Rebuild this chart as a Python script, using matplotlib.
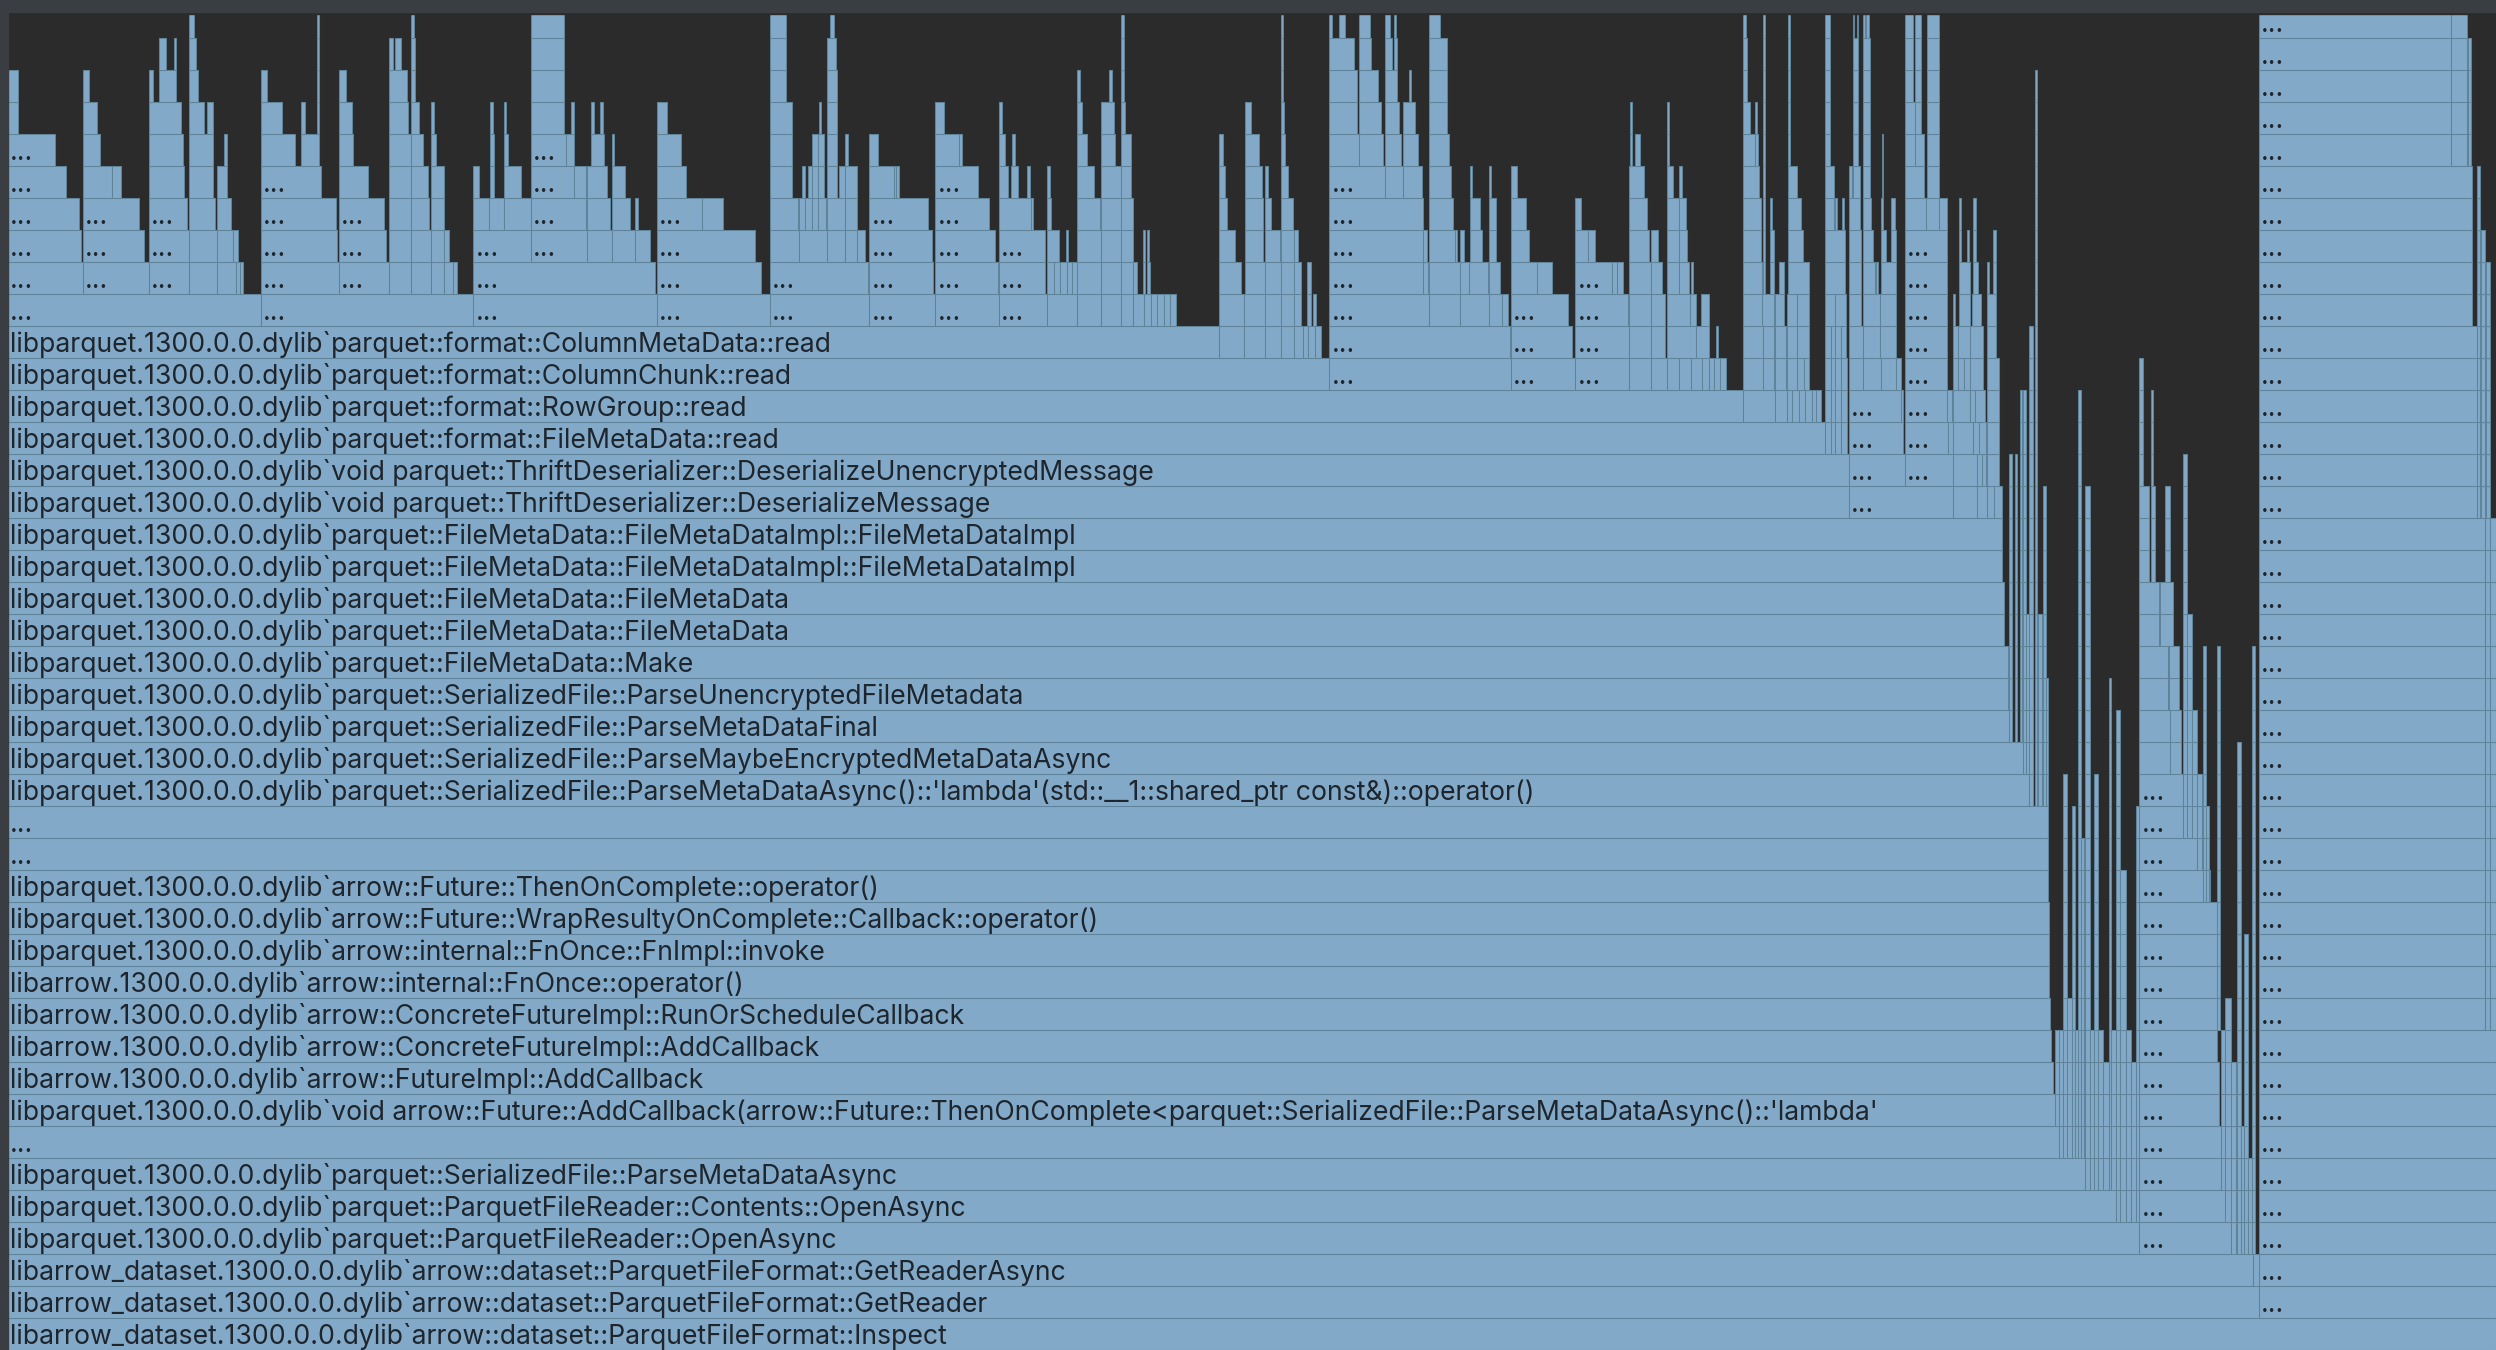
import matplotlib
matplotlib.use("Agg")
import matplotlib.pyplot as plt
from matplotlib.patches import Rectangle

FONT = ["Inter", "DejaVu Sans"]
FILL = "#82aac8"
EDGE = "#5f8399"
TEXT = "#1e252c"
BG = "#2b2b2b"
CHROME = "#3a3e42"

VIEW = 1568.0          # samples across the visible window
N_ROWS = 1350 / 32     # stack rows that fit in the window
MAIN_START = 4.85

# bottom-up call stack (row 0 = root)
main_labels = [
    "libarrow_dataset.1300.0.0.dylib`arrow::dataset::ParquetFileFormat::Inspect",
    "libarrow_dataset.1300.0.0.dylib`arrow::dataset::ParquetFileFormat::GetReader",
    "libarrow_dataset.1300.0.0.dylib`arrow::dataset::ParquetFileFormat::GetReaderAsync",
    "libparquet.1300.0.0.dylib`parquet::ParquetFileReader::OpenAsync",
    "libparquet.1300.0.0.dylib`parquet::ParquetFileReader::Contents::OpenAsync",
    "libparquet.1300.0.0.dylib`parquet::SerializedFile::ParseMetaDataAsync",
    "...",
    "libparquet.1300.0.0.dylib`void arrow::Future::AddCallback(arrow::Future::ThenOnComplete<parquet::SerializedFile::ParseMetaDataAsync()::'lambda'",
    "libarrow.1300.0.0.dylib`arrow::FutureImpl::AddCallback",
    "libarrow.1300.0.0.dylib`arrow::ConcreteFutureImpl::AddCallback",
    "libarrow.1300.0.0.dylib`arrow::ConcreteFutureImpl::RunOrScheduleCallback",
    "libarrow.1300.0.0.dylib`arrow::internal::FnOnce::operator()",
    "libparquet.1300.0.0.dylib`arrow::internal::FnOnce::FnImpl::invoke",
    "libparquet.1300.0.0.dylib`arrow::Future::WrapResultyOnComplete::Callback::operator()",
    "libparquet.1300.0.0.dylib`arrow::Future::ThenOnComplete::operator()",
    "...",
    "...",
    "libparquet.1300.0.0.dylib`parquet::SerializedFile::ParseMetaDataAsync()::'lambda'(std::__1::shared_ptr const&)::operator()",
    "libparquet.1300.0.0.dylib`parquet::SerializedFile::ParseMaybeEncryptedMetaDataAsync",
    "libparquet.1300.0.0.dylib`parquet::SerializedFile::ParseMetaDataFinal",
    "libparquet.1300.0.0.dylib`parquet::SerializedFile::ParseUnencryptedFileMetadata",
    "libparquet.1300.0.0.dylib`parquet::FileMetaData::Make",
    "libparquet.1300.0.0.dylib`parquet::FileMetaData::FileMetaData",
    "libparquet.1300.0.0.dylib`parquet::FileMetaData::FileMetaData",
    "libparquet.1300.0.0.dylib`parquet::FileMetaData::FileMetaDataImpl::FileMetaDataImpl",
    "libparquet.1300.0.0.dylib`parquet::FileMetaData::FileMetaDataImpl::FileMetaDataImpl",
    "libparquet.1300.0.0.dylib`void parquet::ThriftDeserializer::DeserializeMessage",
    "libparquet.1300.0.0.dylib`void parquet::ThriftDeserializer::DeserializeUnencryptedMessage",
    "libparquet.1300.0.0.dylib`parquet::format::FileMetaData::read",
    "libparquet.1300.0.0.dylib`parquet::format::RowGroup::read",
    "libparquet.1300.0.0.dylib`parquet::format::ColumnChunk::read",
    "libparquet.1300.0.0.dylib`parquet::format::ColumnMetaData::read",
]
main_ends = [1568, 1419, 1415.5, 1344, 1329, 1310, 1293.5, 1291, 1290, 1288.5,
             1287.8, 1287.5, 1287.2, 1287, 1286.6, 1286.6, 1286.6, 1274.7, 1271, 1262.3,
             1261.3, 1261.3, 1259, 1259, 1257.5, 1257.5, 1161.6, 1161.6, 1146.5, 1095,
             835, 766]

# "..." frames starting at 1344 on rows 3..17
w_start = 1344.0
w_ends = [1401.7, 1397.9, 1395.3, 1395.3, 1394.0, 1394.0, 1393.0, 1393.0, 1393.0,
          1393.0, 1393.0, 1388.1, 1380.2, 1371.4, 1371.4]

# stacked columns: (x0, x1, first row, last row)
w_upper = [(1344, 1363, 18, 19), (1363, 1370, 18, 19), (1344, 1362, 20, 21),
           (1362.5, 1369, 20, 21), (1344, 1356, 22, 23), (1357, 1365, 22, 23),
           (1344, 1350, 24, 26), (1351, 1354, 24, 26), (1360, 1363, 24, 26),
           (1344, 1346, 27, 30), (1351, 1352.5, 27, 29)]

right_cols = [(1419.2, 1568, 1, 9), (1419.2, 1561.3, 10, 25), (1419.2, 1556, 26, 31),
              (1419.2, 1553, 32, 36), (1419.2, 1540, 37, 41)]

spike_cols = [
    (1262.2, 1263.8, 19, 27), (1265.7, 1267.2, 19, 27), (1268.7, 1270.5, 19, 29),
    (1271.0, 1272.6, 18, 29), (1272.6, 1274.5, 18, 22), (1274.7, 1277.0, 17, 31),
    (1278.3, 1279.5, 17, 39), (1280.0, 1283.0, 17, 22), (1283.5, 1285.0, 17, 26),
    (1285.0, 1286.6, 17, 20), (1291.0, 1293.5, 7, 9), (1293.5, 1296.2, 6, 9),
    (1296.2, 1298.6, 6, 17), (1298.6, 1301.4, 6, 10), (1301.4, 1303.8, 6, 16),
    (1303.8, 1305.7, 6, 9), (1305.7, 1307.5, 6, 29), (1307.5, 1309.3, 6, 15),
    (1310.0, 1313.0, 5, 26), (1313.0, 1315.3, 5, 9), (1315.3, 1317.7, 5, 17),
    (1317.7, 1321.0, 5, 9), (1321.0, 1324.8, 5, 8), (1324.8, 1326.0, 5, 20),
    (1326.0, 1329.0, 5, 9), (1329.1, 1331.5, 4, 19), (1332.0, 1335.6, 4, 14),
    (1335.6, 1338.5, 4, 9), (1338.5, 1341.6, 4, 8), (1341.6, 1343.9, 4, 16),
    (1371.4, 1374.0, 16, 27), (1374.0, 1377.0, 16, 22), (1377.0, 1380.0, 16, 19),
    (1380.2, 1383.0, 15, 17), (1384.0, 1386.0, 14, 21), (1386.0, 1388.0, 14, 16),
    (1393.0, 1394.5, 10, 21), (1395.3, 1397.9, 5, 9), (1397.9, 1401.7, 4, 10),
    (1401.7, 1404.5, 3, 8), (1405.5, 1408.0, 3, 18), (1408.0, 1409.6, 3, 6),
    (1409.6, 1412.5, 3, 12), (1412.5, 1415.0, 3, 5), (1415.0, 1416.5, 3, 21),
    (1415.6, 1419.0, 2, 2), (1540.0, 1550.0, 37, 41), (1550.5, 1552.5, 37, 40),
    (1556.0, 1558.0, 26, 36), (1558.5, 1561.0, 26, 34), (1562.0, 1564.5, 26, 33),
    (1561.3, 1564.5, 10, 25), (1564.5, 1568.0, 10, 25),
]

# frames on the upper rows (x0, x1)
row_26 = [(1161.6, 1226.9), (1226.9, 1242.2), (1242.2, 1248.3), (1248.3, 1252.5), (1252.5, 1257.5)]
row_27 = [(1161.6, 1196.8), (1196.8, 1226.9), (1226.9, 1242.2), (1242.2, 1245.0), (1245.0, 1247.5),
          (1248.3, 1255.8)]
row_28 = [(1146.5, 1150.0), (1150.0, 1153.0), (1153.0, 1156.5), (1156.5, 1160.4), (1161.6, 1195.5),
          (1196.8, 1223.8), (1223.8, 1226.9), (1226.9, 1239.5), (1239.5, 1243.5), (1243.5, 1247.5),
          (1248.3, 1255.8)]
row_29 = [(1095.0, 1115.1), (1115.1, 1122.7), (1122.7, 1126.0), (1126.0, 1130.2), (1130.2, 1134.0),
          (1134.0, 1138.0), (1138.0, 1141.0), (1141.0, 1144.2), (1146.5, 1150.0), (1150.0, 1153.0),
          (1153.0, 1156.5), (1156.5, 1160.4), (1161.6, 1194.5), (1194.5, 1195.5), (1196.8, 1223.2),
          (1223.2, 1226.5), (1226.9, 1237.4), (1237.4, 1241.0), (1241.0, 1246.8), (1248.3, 1255.8)]
row_30 = [(835.1, 949.3), (949.3, 989.7), (989.7, 1023.3), (1023.3, 1037.3), (1037.3, 1047.4),
          (1047.4, 1055.0), (1055.0, 1062.0), (1062.0, 1069.0), (1069.0, 1073.8), (1073.8, 1077.0),
          (1077.0, 1080.5), (1080.5, 1084.0), (1095.0, 1107.5), (1107.5, 1114.7), (1115.1, 1122.0),
          (1122.7, 1129.0), (1129.0, 1133.0), (1133.0, 1136.5), (1146.5, 1150.0), (1150.0, 1153.0),
          (1153.0, 1156.5), (1156.5, 1160.3), (1161.6, 1170.4), (1170.4, 1181.9), (1181.9, 1191.3),
          (1191.3, 1194.5), (1196.8, 1223.2), (1226.9, 1230.0), (1230.0, 1233.5), (1233.5, 1237.4),
          (1237.4, 1245.8), (1248.3, 1255.8)]
row_31 = [(766.0, 781.7), (781.7, 794.9), (794.9, 804.7), (804.7, 813.2), (813.2, 818.8),
          (818.8, 822.0), (822.0, 826.0), (826.0, 830.0), (835.1, 948.3), (949.3, 987.3),
          (989.7, 1023.3), (1023.3, 1037.3), (1037.3, 1046.2), (1047.4, 1065.4), (1065.4, 1073.8),
          (1078.0, 1079.5), (1095.0, 1107.5), (1107.5, 1114.7), (1115.1, 1122.0), (1122.7, 1129.0),
          (1129.0, 1136.4), (1146.5, 1150.0), (1150.0, 1153.0), (1153.0, 1156.5), (1156.5, 1159.9),
          (1161.6, 1170.4), (1170.4, 1180.9), (1180.9, 1191.3), (1196.8, 1223.2), (1226.9, 1230.0),
          (1230.0, 1237.4), (1237.4, 1245.8), (1248.3, 1254.0)]
row_32 = [(4.85, 164.0), (164.0, 297.4), (297.4, 412.8), (412.8, 483.7), (483.7, 546.2),
          (546.2, 587.5), (587.5, 627.6), (627.6, 657.6), (657.6, 676.6), (676.6, 691.8),
          (691.8, 704.4), (704.4, 711.7), (711.7, 718.4), (718.4, 723.0), (723.0, 727.0),
          (727.0, 731.0), (731.0, 735.0), (735.0, 738.9), (766.0, 781.7), (781.7, 794.9),
          (794.9, 804.7), (804.7, 813.2), (813.2, 817.4), (821.0, 823.8), (825.0, 826.6),
          (835.1, 897.9), (897.9, 917.1), (917.1, 935.6), (935.6, 943.5), (943.5, 947.5),
          (949.3, 984.9), (989.7, 1022.9), (1023.3, 1037.3), (1037.3, 1046.2), (1047.4, 1061.8),
          (1061.8, 1065.4), (1068.6, 1073.8), (1095.0, 1107.0), (1107.0, 1114.2), (1115.1, 1120.7),
          (1122.7, 1129.0), (1129.0, 1136.4), (1146.5, 1153.0), (1153.0, 1159.9), (1161.6, 1169.4),
          (1170.4, 1180.9), (1181.3, 1191.0), (1196.8, 1223.2), (1226.9, 1228.2), (1230.7, 1237.4),
          (1239.0, 1244.7), (1248.3, 1253.7)]
row_33 = [(4.85, 52.2), (52.2, 93.6), (93.6, 118.6), (118.6, 136.2), (136.2, 148.0),
          (148.0, 150.6), (150.6, 152.9), (164.0, 212.8), (212.8, 244.2), (244.2, 258.3),
          (258.3, 270.8), (270.8, 278.8), (278.8, 284.6), (284.6, 287.2), (297.4, 411.2),
          (412.8, 478.2), (483.7, 545.4), (546.2, 586.0), (587.5, 626.7), (627.6, 656.7),
          (657.9, 662.0), (662.0, 666.0), (666.0, 670.0), (670.0, 673.5), (673.5, 676.6),
          (676.6, 691.8), (691.8, 704.4), (704.4, 711.7), (711.7, 714.5), (717.9, 719.5),
          (720.8, 722.2), (766.0, 779.5), (782.3, 794.9), (794.9, 804.7), (804.7, 813.2),
          (813.2, 817.4), (821.0, 823.8), (835.1, 894.0), (894.0, 897.2), (897.9, 917.1),
          (917.1, 922.9), (922.9, 934.9), (935.6, 942.1), (949.3, 965.6), (965.6, 974.8),
          (989.7, 1012.5), (1012.5, 1016.0), (1016.0, 1019.5), (1023.3, 1037.3), (1037.3, 1043.8),
          (1047.4, 1054.6), (1054.6, 1061.3), (1062.3, 1063.8), (1095.0, 1107.0), (1107.5, 1108.7),
          (1111.7, 1114.2), (1117.6, 1120.7), (1123.1, 1136.4), (1146.5, 1159.0), (1161.6, 1169.4),
          (1170.4, 1177.7), (1178.4, 1179.8), (1181.9, 1191.0), (1196.8, 1223.2), (1230.7, 1237.4),
          (1239.5, 1242.6), (1248.3, 1249.5), (1252.0, 1253.7)]
row_34 = [(4.85, 50.6), (52.2, 90.4), (93.6, 118.6), (118.6, 136.2), (136.2, 146.5),
          (146.5, 149.7), (164.0, 211.5), (212.8, 242.6), (244.2, 258.3), (258.3, 270.8),
          (270.8, 278.8), (278.8, 282.0), (297.4, 333.3), (333.3, 368.6), (368.6, 384.6),
          (384.6, 399.0), (399.0, 408.6), (412.8, 474.3), (483.7, 502.0), (502.0, 519.6),
          (519.6, 530.8), (530.8, 538.4), (538.4, 543.4), (546.2, 585.5), (587.5, 625.3),
          (627.6, 656.2), (657.9, 665.1), (669.6, 670.8), (676.6, 691.8), (691.8, 704.4),
          (704.4, 711.7), (717.9, 719.5), (720.8, 722.0), (766.0, 776.0), (782.3, 793.6),
          (794.9, 804.2), (804.7, 812.6), (813.2, 815.5), (835.1, 894.0), (894.0, 896.4),
          (897.9, 914.0), (914.0, 915.6), (917.1, 919.5), (923.6, 930.8), (935.6, 940.0),
          (949.3, 960.4), (989.7, 997.4), (997.4, 1002.2), (1023.3, 1035.8), (1037.3, 1041.4),
          (1047.4, 1054.6), (1054.6, 1059.9), (1095.0, 1106.3), (1107.5, 1108.7), (1111.7, 1114.2),
          (1123.1, 1132.7), (1146.5, 1159.0), (1161.6, 1169.4), (1170.4, 1176.7), (1181.9, 1185.0),
          (1188.2, 1191.0), (1196.8, 1223.2), (1230.7, 1232.2), (1235.7, 1237.0), (1239.5, 1241.2),
          (1252.0, 1253.7)]
row_35 = [(4.85, 49.7), (52.2, 87.2), (93.6, 117.6), (118.6, 135.3), (136.2, 145.2),
          (164.0, 210.9), (212.8, 241.0), (244.2, 258.3), (258.3, 269.2), (270.8, 278.8),
          (297.4, 307.0), (307.0, 316.7), (316.7, 333.3), (333.3, 368.0), (368.6, 383.0),
          (384.6, 395.8), (399.0, 400.6), (412.8, 440.7), (440.7, 454.5), (483.7, 501.4),
          (502.0, 506.0), (506.0, 510.0), (510.0, 514.0), (514.0, 518.8), (519.6, 530.8),
          (530.8, 538.4), (546.2, 582.7), (587.5, 621.1), (627.6, 647.8), (647.8, 649.0),
          (657.9, 660.4), (676.6, 691.2), (691.8, 704.4), (704.4, 711.7), (766.0, 771.0),
          (782.3, 793.6), (794.9, 798.5), (804.7, 812.0), (835.1, 894.0), (897.9, 912.8),
          (923.6, 929.6), (935.6, 939.5), (949.3, 958.4), (989.7, 993.3), (1023.3, 1034.9),
          (1047.4, 1054.6), (1054.6, 1058.9), (1095.0, 1106.3), (1107.5, 1108.7), (1111.7, 1113.0),
          (1123.1, 1131.5), (1146.5, 1151.9), (1152.6, 1154.3), (1157.2, 1158.4), (1161.6, 1168.3),
          (1170.4, 1175.6), (1181.9, 1183.0), (1188.2, 1190.5), (1196.8, 1210.2), (1210.2, 1218.1),
          (1218.1, 1223.2), (1230.7, 1232.2), (1239.5, 1241.2)]
row_36 = [(4.85, 41.7), (52.2, 70.5), (70.5, 76.0), (93.6, 115.4), (118.6, 134.0),
          (136.2, 142.6), (164.0, 201.9), (212.8, 231.4), (244.2, 258.3), (258.3, 268.6),
          (270.8, 278.8), (297.4, 300.6), (307.7, 310.2), (316.7, 327.6), (333.3, 360.6),
          (360.6, 368.0), (368.6, 381.4), (384.6, 392.6), (412.8, 431.0), (483.7, 497.7),
          (504.0, 505.5), (507.6, 510.0), (510.0, 514.0), (514.0, 517.4), (519.6, 525.8),
          (527.2, 530.8), (530.8, 538.4), (546.2, 561.4), (561.4, 563.0), (563.0, 565.0),
          (587.5, 614.1), (627.6, 633.2), (635.0, 639.3), (644.9, 647.2), (657.9, 659.5),
          (676.6, 687.0), (691.8, 704.4), (704.4, 710.8), (766.0, 769.7), (782.3, 793.0),
          (794.9, 796.3), (804.7, 808.9), (835.1, 870.0), (870.0, 881.5), (881.5, 893.0),
          (897.9, 911.6), (923.6, 925.0), (935.6, 936.8), (949.3, 953.1), (1023.3, 1033.0),
          (1047.4, 1051.0), (1054.6, 1056.5), (1095.0, 1105.0), (1107.5, 1108.7), (1123.1, 1129.1),
          (1146.5, 1151.9), (1161.6, 1163.5), (1164.0, 1168.3), (1170.4, 1174.7), (1182.0, 1183.0),
          (1196.8, 1208.5), (1210.7, 1218.1)]
row_37 = [(4.85, 34.6), (52.2, 63.1), (93.6, 115.0), (118.6, 134.0), (141.0, 142.6),
          (164.0, 185.3), (189.0, 200.3), (212.8, 221.8), (244.2, 258.3), (258.3, 266.0),
          (270.8, 274.0), (307.7, 310.2), (316.7, 319.0), (333.3, 355.8), (355.8, 360.6),
          (371.0, 379.7), (384.6, 386.0), (412.8, 427.9), (483.7, 497.7), (510.4, 514.0),
          (514.0, 517.4), (519.6, 525.8), (531.0, 532.5), (546.2, 551.6), (587.5, 602.3),
          (602.3, 604.5), (627.6, 631.5), (636.0, 637.5), (676.6, 682.8), (691.8, 700.5),
          (704.4, 710.8), (766.0, 768.4), (782.3, 790.8), (804.7, 807.4), (835.1, 853.9),
          (853.9, 869.0), (870.0, 880.3), (881.5, 890.6), (897.9, 910.3), (1023.8, 1025.3),
          (1027.0, 1030.5), (1047.4, 1048.6), (1095.0, 1102.2), (1102.7, 1104.2), (1107.5, 1108.7),
          (1123.1, 1124.8), (1146.5, 1149.7), (1164.0, 1167.5), (1170.4, 1174.7), (1182.0, 1183.0),
          (1196.8, 1203.2), (1203.2, 1208.5), (1210.7, 1218.1)]
row_38 = [(4.85, 11.2), (52.2, 60.9), (93.6, 113.8), (118.6, 128.2), (129.8, 134.0),
          (164.0, 176.9), (189.0, 191.3), (199.0, 200.3), (212.8, 221.1), (244.2, 256.0),
          (258.3, 263.5), (270.8, 272.4), (307.7, 309.6), (316.7, 317.9), (333.3, 354.2),
          (358.6, 360.6), (371.0, 373.0), (377.0, 379.0), (412.8, 419.2), (483.7, 497.7),
          (514.5, 516.0), (519.6, 525.8), (587.5, 593.1), (627.6, 629.6), (676.6, 680.0),
          (691.8, 699.6), (704.4, 706.6), (782.3, 785.6), (804.7, 806.9), (835.1, 852.7),
          (853.9, 867.6), (870.0, 878.6), (881.5, 888.7), (897.9, 909.2), (1023.8, 1025.3),
          (1047.4, 1048.6), (1095.0, 1099.1), (1102.7, 1104.0), (1107.5, 1108.7), (1123.1, 1124.8),
          (1146.5, 1149.7), (1164.0, 1167.5), (1170.4, 1174.7), (1196.8, 1203.2), (1203.2, 1206.5),
          (1210.7, 1218.1)]
row_39 = [(4.85, 11.2), (52.2, 56.1), (93.6, 96.2), (100.0, 110.6), (118.6, 124.4),
          (164.0, 168.0), (199.0, 200.3), (212.8, 217.3), (244.2, 255.8), (258.3, 260.5),
          (333.3, 354.2), (483.7, 493.5), (519.6, 525.8), (676.6, 678.6), (696.7, 698.6),
          (704.4, 706.1), (804.7, 806.2), (835.1, 852.7), (853.9, 865.9), (870.0, 877.9),
          (885.1, 886.3), (897.9, 909.2), (1095.0, 1097.6), (1107.5, 1108.7), (1123.1, 1124.8),
          (1146.5, 1149.7), (1164.0, 1167.5), (1170.4, 1174.7), (1196.8, 1201.8), (1203.2, 1206.5),
          (1210.7, 1218.1)]
row_40 = [(100.0, 104.2), (109.0, 110.6), (118.6, 123.4), (199.0, 200.3), (244.2, 246.8),
          (248.4, 251.6), (258.3, 260.5), (333.3, 354.2), (483.7, 493.5), (519.6, 524.9),
          (704.4, 706.1), (804.7, 806.2), (835.1, 850.3), (853.9, 861.3), (870.0, 874.3),
          (875.5, 877.9), (897.9, 909.2), (1095.0, 1097.6), (1107.5, 1108.7), (1123.1, 1124.8),
          (1146.5, 1149.7), (1164.0, 1167.5), (1170.4, 1174.7), (1196.8, 1201.8), (1203.2, 1206.5),
          (1210.7, 1218.1)]
row_41 = [(118.6, 121.8), (199.0, 200.3), (258.3, 260.2), (333.3, 354.2), (483.7, 493.5),
          (521.5, 523.8), (704.4, 706.1), (804.7, 806.2), (835.1, 837.0), (841.1, 845.0),
          (853.9, 860.4), (870.0, 872.9), (875.5, 876.7), (897.9, 904.4), (1095.0, 1096.9),
          (1107.5, 1108.7), (1123.1, 1124.3), (1146.5, 1149.7), (1164.0, 1165.0), (1166.5, 1167.5),
          (1170.4, 1171.8), (1172.5, 1174.0), (1196.8, 1201.8), (1203.2, 1206.5), (1210.7, 1218.1)]

upper_rows = [row_26, row_27, row_28, row_29, row_30, row_31, row_32, row_33,
              row_34, row_35, row_36, row_37, row_38, row_39, row_40, row_41]
UPPER_FIRST = 26
LABEL_MIN = 22.0   # frames narrower than this get no "..."

# collect frames as (row, x0, x1, label)
frames = []
for k, (lab, end) in enumerate(zip(main_labels, main_ends)):
    frames.append((k, MAIN_START, end, lab))
for i, end in enumerate(w_ends):
    frames.append((3 + i, w_start, end, None))
for x0, x1, k0, k1 in w_upper + right_cols + spike_cols:
    for k in range(k0, k1 + 1):
        frames.append((k, x0, x1, None))
for i, row in enumerate(upper_rows):
    for x0, x1 in row:
        frames.append((UPPER_FIRST + i, x0, x1, None))

fig = plt.figure(figsize=(24.96, 13.5), dpi=100, facecolor=BG)
ax = fig.add_axes([0, 0, 1, 1])
ax.set_facecolor(BG)
ax.set_xlim(0, VIEW)
ax.set_ylim(0, N_ROWS)
ax.axis("off")

# fit the font so the label widths match the reference
probe = ax.text(0, 0, main_labels[31], fontsize=20, family=FONT)
fig.canvas.draw()
fs = 20 * 820.0 / probe.get_window_extent().width
probe.remove()

rows = {}
for k, x0, x1, lab in frames:
    rows.setdefault(k, []).append((x0, x1 - x0))
for k, spans in rows.items():
    ax.broken_barh(spans, (k, 1), facecolors=FILL, edgecolors=EDGE, linewidth=0.75)

for k, x0, x1, lab in frames:
    if lab is None:
        if x1 - x0 < LABEL_MIN:
            continue
        lab = "..."
    ax.text(x0 + 1.4, k + 0.19, lab, fontsize=fs, family=FONT, color=TEXT,
            va="baseline", ha="left", clip_on=True)

# window chrome: title strip and left gutter
fig.add_artist(Rectangle((0, 1 - 14 / 1350), 1, 2 / 1350, transform=fig.transFigure,
                         color=BG, zorder=5))
fig.add_artist(Rectangle((0, 1 - 12 / 1350), 1, 12 / 1350, transform=fig.transFigure,
                         color=CHROME, zorder=6))
fig.add_artist(Rectangle((0, 0), 7.5 / 2496, 1, transform=fig.transFigure,
                         color=CHROME, zorder=6))

fig.savefig("out.png", dpi=100, facecolor=BG)
